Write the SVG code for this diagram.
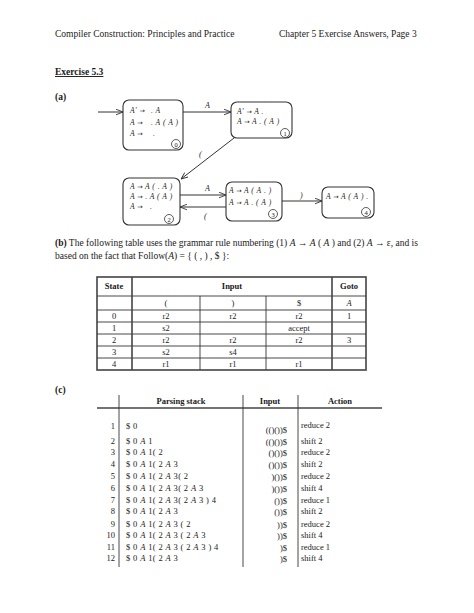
<svg xmlns="http://www.w3.org/2000/svg" width="474" height="613" viewBox="0 0 474 613">
<style>
text{font-family:"Liberation Serif","Times New Roman",serif;fill:#1a1a1a}
.hd{font-size:9.5px}
.b{font-weight:bold}
.i{font-style:italic}
.bx{fill:none;stroke:#333;stroke-width:1.1}
.it{font-size:7.5px;font-style:italic;letter-spacing:0.5px}
.ar{font-family:"DejaVu Sans",sans-serif;font-style:normal;font-size:6.5px;letter-spacing:0}
.cn{font-size:6.5px;text-anchor:middle}
.cc{fill:none;stroke:#333;stroke-width:0.8}
.lab{font-size:8px;font-style:italic}
.con line{stroke:#333;stroke-width:1}
.t{font-size:8.5px}
.st{letter-spacing:0.35px}
.m{text-anchor:middle}
.r{text-anchor:end}
.g{stroke:#333;stroke-width:0.9;fill:none}
.gk{stroke:#444;stroke-width:1.6;fill:none}
</style>
<defs>
<marker id="ah" viewBox="0 0 10 10" refX="10" refY="5" markerWidth="7" markerHeight="7" markerUnits="userSpaceOnUse" orient="auto">
<path d="M0,1 L10,5 L0,9" fill="none" stroke="#333" stroke-width="1.3"/>
</marker>
</defs>
<rect width="474" height="613" fill="#fff"/>

<text class="hd" x="55" y="37">Compiler Construction: Principles and Practice</text>
<text class="hd" x="279" y="37">Chapter 5 Exercise Answers,  Page 3</text>
<text class="hd b" x="55" y="75" text-decoration="underline">Exercise 5.3</text>
<text class="hd b" x="55" y="100">(a)</text>

<g id="connectors" class="con">
<line x1="98" y1="112" x2="123" y2="112" marker-end="url(#ah)"/>
<line x1="183" y1="112" x2="231" y2="112" marker-end="url(#ah)"/>
<line x1="234" y1="138" x2="181" y2="179" marker-end="url(#ah)"/>
<line x1="180" y1="195" x2="226" y2="195" marker-end="url(#ah)"/>
<line x1="226" y1="207" x2="180" y2="207" marker-end="url(#ah)"/>
<line x1="282" y1="201" x2="322" y2="201" marker-end="url(#ah)"/>
<text class="lab" x="205" y="108">A</text>
<text class="lab" x="199" y="157">(</text>
<text class="lab" x="205" y="191">A</text>
<text class="lab" x="204" y="219">(</text>
<text class="lab" x="300" y="198">)</text>
</g>

<g id="state0">
<rect class="bx" x="123" y="100" width="60" height="50" rx="6"/>
<text class="it" x="130" y="113">A' <tspan class="ar">→</tspan> <tspan x="151">. A</tspan></text>
<text class="it" x="130" y="125">A <tspan class="ar">→</tspan> <tspan x="151">. A ( A )</tspan></text>
<text class="it" x="130" y="136">A <tspan class="ar">→</tspan> <tspan x="153">.</tspan></text>
<circle class="cc" cx="176" cy="144" r="4.5"/>
<text class="cn" x="176" y="146.5">0</text>
</g>

<g id="state1">
<rect class="bx" x="231" y="102" width="61" height="36" rx="6"/>
<text class="it" x="237" y="114">A' <tspan class="ar">→</tspan> A .</text>
<text class="it" x="237" y="124">A <tspan class="ar">→</tspan> A . ( A )</text>
<circle class="cc" cx="285" cy="133" r="4.5"/>
<text class="cn" x="285" y="135.5">1</text>
</g>

<g id="state2">
<rect class="bx" x="123" y="178" width="57" height="47" rx="6"/>
<text class="it" x="130" y="189">A <tspan class="ar">→</tspan> A ( . A )</text>
<text class="it" x="130" y="199">A <tspan class="ar">→</tspan> . A ( A )</text>
<text class="it" x="130" y="209">A <tspan class="ar">→</tspan> <tspan x="150">.</tspan></text>
<circle class="cc" cx="169" cy="219" r="4.5"/>
<text class="cn" x="169" y="221.5">2</text>
</g>

<g id="state3">
<rect class="bx" x="226" y="182" width="56" height="39" rx="6"/>
<text class="it" x="229" y="193">A <tspan class="ar">→</tspan> A ( A . )</text>
<text class="it" x="229" y="205">A <tspan class="ar">→</tspan> A . ( A )</text>
<circle class="cc" cx="273" cy="214" r="4.5"/>
<text class="cn" x="273" y="216.5">3</text>
</g>

<g id="state4">
<rect class="bx" x="322" y="187" width="52" height="31" rx="6"/>
<text class="it" x="326" y="199">A <tspan class="ar">→</tspan> A ( A ) .</text>
<circle class="cc" cx="366" cy="212" r="4.5"/>
<text class="cn" x="366" y="214.5">4</text>
</g>

<text class="hd" x="55" y="246"><tspan class="b">(b)</tspan> The following table uses the grammar rule numbering (1) <tspan class="i">A</tspan> → <tspan class="i">A</tspan> ( <tspan class="i">A</tspan> ) and (2) <tspan class="i">A</tspan> → ε, and is</text>
<text class="hd" x="55" y="259">based on the fact that Follow(<tspan class="i">A</tspan>) = { ( , ) , $ }:</text>

<g id="tableB">
<rect class="gk" x="97" y="277" width="269" height="93"/>
<line class="g" x1="97" y1="296" x2="366" y2="296"/>
<line class="g" x1="97" y1="310" x2="366" y2="310"/>
<line class="g" x1="97" y1="322" x2="366" y2="322"/>
<line class="g" x1="97" y1="334" x2="366" y2="334"/>
<line class="g" x1="97" y1="346" x2="366" y2="346"/>
<line class="g" x1="97" y1="358" x2="366" y2="358"/>
<line class="gk" x1="132" y1="277" x2="132" y2="370"/>
<line class="gk" x1="332" y1="277" x2="332" y2="370"/>
<line class="g" x1="200" y1="296" x2="200" y2="370"/>
<line class="g" x1="266" y1="296" x2="266" y2="370"/>
<text class="t b m" x="114" y="289">State</text>
<text class="t b m" x="232" y="289">Input</text>
<text class="t b m" x="349" y="289">Goto</text>
<text class="t m" x="166" y="306">(</text>
<text class="t m" x="233" y="306">)</text>
<text class="t m" x="299" y="306">$</text>
<text class="t m i" x="349" y="306">A</text>
<text class="t m" x="114" y="319">0</text><text class="t m" x="166" y="319">r2</text><text class="t m" x="233" y="319">r2</text><text class="t m" x="299" y="319">r2</text><text class="t m" x="349" y="319">1</text>
<text class="t m" x="114" y="331">1</text><text class="t m" x="166" y="331">s2</text><text class="t m" x="299" y="331">accept</text>
<text class="t m" x="114" y="343">2</text><text class="t m" x="166" y="343">r2</text><text class="t m" x="233" y="343">r2</text><text class="t m" x="299" y="343">r2</text><text class="t m" x="349" y="343">3</text>
<text class="t m" x="114" y="355">3</text><text class="t m" x="166" y="355">s2</text><text class="t m" x="233" y="355">s4</text>
<text class="t m" x="114" y="367">4</text><text class="t m" x="166" y="367">r1</text><text class="t m" x="233" y="367">r1</text><text class="t m" x="299" y="367">r1</text>
</g>

<text class="hd b" x="55" y="393">(c)</text>

<g id="tableC">
<line class="gk" x1="97" y1="408" x2="382" y2="408"/>
<line class="g" x1="119" y1="395" x2="119" y2="567"/>
<line class="g" x1="243" y1="395" x2="243" y2="567"/>
<line class="g" x1="298" y1="395" x2="298" y2="567"/>
<text class="t b m" x="181" y="404">Parsing stack</text>
<text class="t b m" x="270" y="404">Input</text>
<text class="t b m" x="340" y="404">Action</text>

<text class="t r" x="115" y="429">1</text><text class="t st" x="126" y="429">$ 0</text><text class="t r" x="287" y="433">(()())$</text><text class="t" x="301" y="428">reduce 2</text>
<text class="t r" x="115" y="444">2</text><text class="t st" x="126" y="444">$ 0 <tspan class="i">A</tspan> 1</text><text class="t r" x="287" y="445">(()())$</text><text class="t" x="301" y="444">shift 2</text>
<text class="t r" x="115" y="455">3</text><text class="t st" x="126" y="455">$ 0 <tspan class="i">A</tspan> 1( 2</text><text class="t r" x="287" y="456">()())$</text><text class="t" x="301" y="455">reduce 2</text>
<text class="t r" x="115" y="467">4</text><text class="t st" x="126" y="467">$ 0 <tspan class="i">A</tspan> 1( 2 <tspan class="i">A</tspan> 3</text><text class="t r" x="287" y="468">()())$</text><text class="t" x="301" y="467">shift 2</text>
<text class="t r" x="115" y="479">5</text><text class="t st" x="126" y="479">$ 0 <tspan class="i">A</tspan> 1( 2 <tspan class="i">A</tspan> 3( 2</text><text class="t r" x="287" y="480">)())$</text><text class="t" x="301" y="479">reduce 2</text>
<text class="t r" x="115" y="491">6</text><text class="t st" x="126" y="491">$ 0 <tspan class="i">A</tspan> 1( 2 <tspan class="i">A</tspan> 3( 2 <tspan class="i">A</tspan> 3</text><text class="t r" x="287" y="492">)())$</text><text class="t" x="301" y="491">shift 4</text>
<text class="t r" x="115" y="503">7</text><text class="t st" x="126" y="503">$ 0 <tspan class="i">A</tspan> 1( 2 <tspan class="i">A</tspan> 3( 2 <tspan class="i">A</tspan> 3 ) 4</text><text class="t r" x="287" y="504">())$</text><text class="t" x="301" y="503">reduce 1</text>
<text class="t r" x="115" y="514">8</text><text class="t st" x="126" y="514">$ 0 <tspan class="i">A</tspan> 1( 2 <tspan class="i">A</tspan> 3</text><text class="t r" x="287" y="515">())$</text><text class="t" x="301" y="514">shift 2</text>
<text class="t r" x="115" y="527">9</text><text class="t st" x="126" y="527">$ 0 <tspan class="i">A</tspan> 1( 2 <tspan class="i">A</tspan> 3 ( 2</text><text class="t r" x="287" y="528">))$</text><text class="t" x="301" y="527">reduce 2</text>
<text class="t r" x="115" y="538">10</text><text class="t st" x="126" y="538">$ 0 <tspan class="i">A</tspan> 1( 2 <tspan class="i">A</tspan> 3 ( 2 <tspan class="i">A</tspan> 3</text><text class="t r" x="287" y="539">))$</text><text class="t" x="301" y="538">shift 4</text>
<text class="t r" x="115" y="550">11</text><text class="t st" x="126" y="550">$ 0 <tspan class="i">A</tspan> 1( 2 <tspan class="i">A</tspan> 3 ( 2 <tspan class="i">A</tspan> 3 ) 4</text><text class="t r" x="287" y="551">)$</text><text class="t" x="301" y="550">reduce 1</text>
<text class="t r" x="115" y="561">12</text><text class="t st" x="126" y="561">$ 0 <tspan class="i">A</tspan> 1( 2 <tspan class="i">A</tspan> 3</text><text class="t r" x="287" y="562">)$</text><text class="t" x="301" y="561">shift 4</text>
</g>
</svg>
